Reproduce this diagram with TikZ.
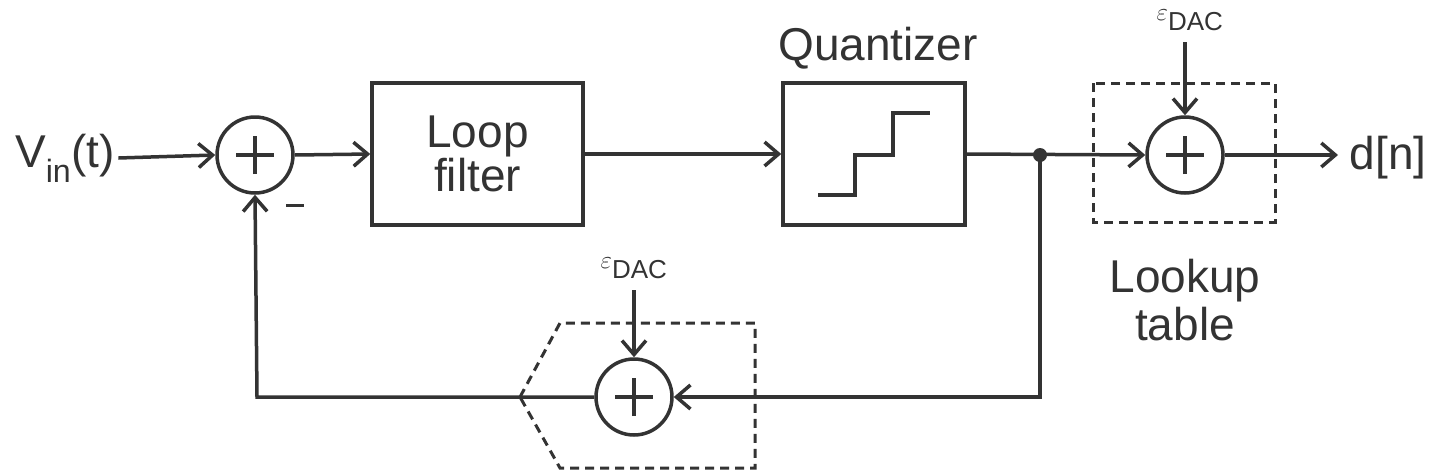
\documentclass[tikz,border=0pt]{standalone}
\usepackage{fontspec}
\setmainfont{Liberation Sans}
\usetikzlibrary{arrows.meta}
\definecolor{ink}{HTML}{333333}
\begin{document}
\begin{tikzpicture}[x=1pt,y=-1pt,
  every node/.style={text=ink,font=\fontsize{46}{50}\selectfont},
  ln/.style={draw=ink,line width=3.5pt},
  arr/.style={ln,-{Straight Barb[length=14pt,width=24pt,line width=3.5pt]}},
  sum/.style={circle,draw=ink,line width=3.5pt,minimum size=76pt,inner sep=0pt},
  blk/.style={draw=ink,line width=3.5pt,inner sep=0pt},
  dsh/.style={draw=ink,line width=3pt,dash pattern=on 9pt off 6pt},
  eps/.style={font=\fontsize{40}{44}\selectfont}]
\useasboundingbox (0,0) rectangle (1440,472);
% dashed frames
\draw[dsh] (1093,83) rectangle (1275,222);
\draw[dsh] (520,397) -- (560,323) -- (755,323) -- (755,468) -- (560,468) -- cycle;
% nodes
\node (vin) at (65,158) {V\textsubscript{in}(t)};
\node[sum] (s1) at (255,155) {};
\node[blk,minimum width=211pt,minimum height=142pt,align=center] (lf) at (477.5,154) {Loop\\[-6pt]filter};
\node[blk,minimum width=182pt,minimum height=142pt] (q) at (874,154) {};
\node at (878,48) {Quantizer};
\node[sum] (s2) at (1185,155) {};
\node (dn) at (1388,158) {d[n]};
\node[align=center] (lut) at (1185,300) {Lookup\\[-2pt]table};
\node[sum] (s3) at (634,397) {};
\node[eps] (e1) at (1190,20) {$\varepsilon$\textsubscript{\fontsize{26}{28}\selectfont DAC}};
\node[eps] (e2) at (634,268) {$\varepsilon$\textsubscript{\fontsize{26}{28}\selectfont DAC}};
\node at (295,205) {\rule{18pt}{3pt}};
\coordinate (dot) at (1040,155);
\coordinate (bl) at (257,397);
% plus signs
\foreach \s in {s1,s2,s3}{
  \draw[ln] ([xshift=-19pt]\s.center) -- ([xshift=19pt]\s.center);
  \draw[ln] ([yshift=-19pt]\s.center) -- ([yshift=19pt]\s.center);}
% staircase
\draw[ln] (818,195) -- (855,195) -- (855,155) -- (893,155) -- (893,113) -- (930,113);
% connectors
\draw[arr] (vin.east) -- (s1.west);
\draw[arr] (s1.east) -- (lf.west);
\draw[arr] (lf.east) -- (q.west);
\draw[arr] (q.east) -- (s2.west);
\draw[arr] (s2.east) -- (1338,155);
\draw[arr] (1185,42) -- (s2.north);
\draw[arr] (634,290) -- (s3.north);
\draw[arr] (dot) -- (1040,397) -- (s3.east);
\draw[arr] (s3.west) -- (bl) -- (s1.south);
\fill[ink] (dot) circle (7pt);
\end{tikzpicture}
\end{document}
